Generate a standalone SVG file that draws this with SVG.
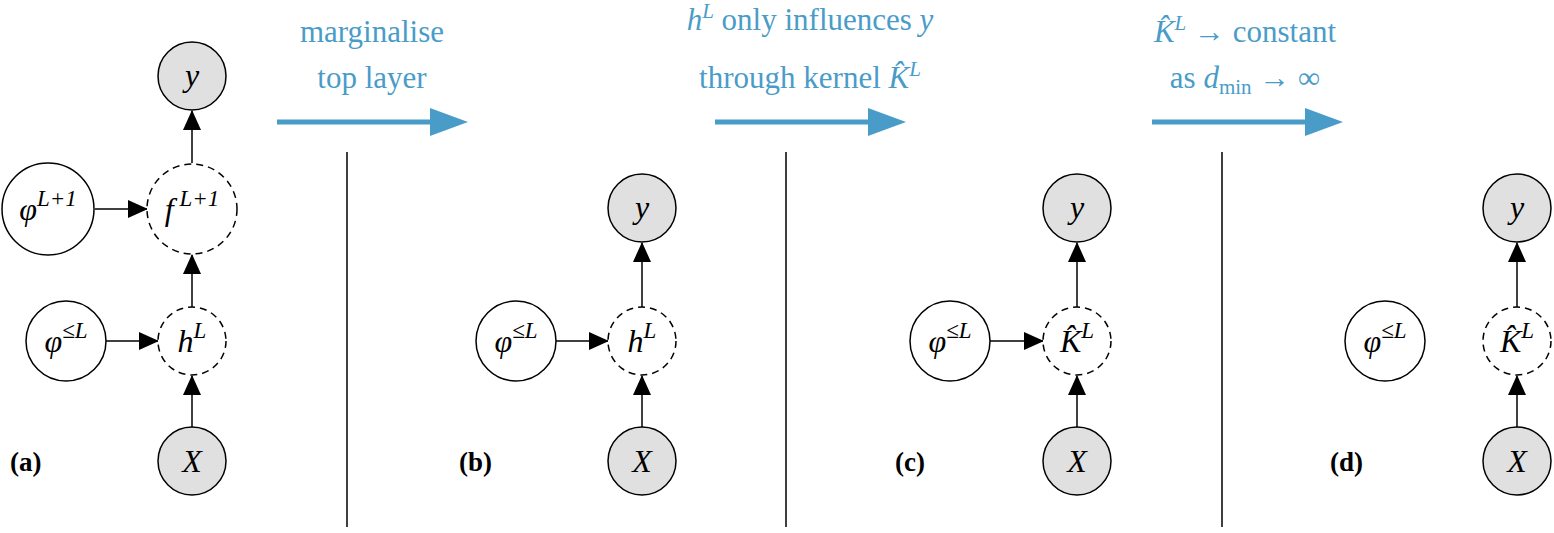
<svg xmlns="http://www.w3.org/2000/svg" width="1554" height="533" viewBox="0 0 1554 533">
<style>
.n{fill:#fff;stroke:#000;stroke-width:1.5}
.g{fill:#e0e0e0;stroke:#000;stroke-width:1.5}
.d{fill:#fff;stroke:#000;stroke-width:1.5;stroke-dasharray:7,5}
.m{font-family:"Liberation Serif","Times New Roman","DejaVu Serif",serif;font-style:italic;font-size:32px;text-anchor:middle}
.b{font-family:"Liberation Serif","Times New Roman","DejaVu Serif",serif;font-size:31px;fill:#4a9cc8;text-anchor:middle}
.lab{font-family:"Liberation Serif","Times New Roman","DejaVu Serif",serif;font-weight:bold;font-size:27px}
.e{stroke:#000;stroke-width:1.5;fill:none;marker-end:url(#ah)}
.ba{stroke:#4a9cc8;stroke-width:5;fill:none}
.div{stroke:#000;stroke-width:1.5}
</style>
<defs>
<marker id="ah" markerWidth="20" markerHeight="18" refX="19" refY="9" orient="auto" markerUnits="userSpaceOnUse"><path d="M0,0L20,9L0,18z" fill="#000"/></marker>
</defs>
<g id="connectors">
<path class="e" d="M192,163V111"/><path class="e" d="M192,307V255"/><path class="e" d="M192,427V376"/>
<path class="e" d="M95,209H147"/><path class="e" d="M106,341H158"/>
<path class="e" d="M642,307V243"/><path class="e" d="M642,427V376"/><path class="e" d="M556,341H608"/>
<path class="e" d="M1077,307V243"/><path class="e" d="M1077,427V376"/><path class="e" d="M990,341H1043"/>
<path class="e" d="M1517,307V243"/><path class="e" d="M1517,427V376"/>
<path class="ba" d="M277,122H432"/><path d="M430,108L468,122L430,136z" fill="#4a9cc8"/>
<path class="ba" d="M715,122H870"/><path d="M868,108L906,122L868,136z" fill="#4a9cc8"/>
<path class="ba" d="M1152,122H1307"/><path d="M1305,108L1343,122L1305,136z" fill="#4a9cc8"/>
<path class="div" d="M347,152V527M786,152V527M1222,152V527"/>
</g>
<g id="text-arrows">
<text class="b" x="372" y="42">marginalise</text><text class="b" x="372" y="88">top layer</text>
<text class="b" x="810" y="30"><tspan font-style="italic">h</tspan><tspan font-style="italic" font-size="21" dy="-12">L</tspan><tspan dy="12"> only influences </tspan><tspan font-style="italic">y</tspan></text>
<text class="b" x="810" y="88">through kernel <tspan font-style="italic">K̂</tspan><tspan font-style="italic" font-size="21" dy="-12">L</tspan></text>
<text class="b" x="1245" y="42"><tspan font-style="italic">K̂</tspan><tspan font-style="italic" font-size="21" dy="-12">L</tspan><tspan dy="12"> → constant</tspan></text>
<text class="b" x="1245" y="88">as <tspan font-style="italic">d</tspan><tspan font-size="21" dy="6">min</tspan><tspan dy="-6"> → ∞</tspan></text>
</g>
<g id="a">
<g id="a-y"><circle class="g" cx="192" cy="76" r="34"/><text class="m" x="192" y="86">y</text></g>
<g id="a-f"><circle class="d" cx="192" cy="209" r="45"/><text class="m" x="192" y="220">f<tspan font-size="23" dy="-14"> L+1</tspan></text></g>
<g id="a-phi1"><circle class="n" cx="48" cy="209" r="46"/><text class="m" x="48" y="220">φ<tspan font-size="23" dy="-14">L+1</tspan></text></g>
<g id="a-phi"><circle class="n" cx="66" cy="341" r="40"/><text class="m" x="66" y="352">φ<tspan font-size="23" dy="-14">≤L</tspan></text></g>
<g id="a-h"><circle class="d" cx="192" cy="341" r="34"/><text class="m" x="192" y="352">h<tspan font-size="23" dy="-14">L</tspan></text></g>
<g id="a-x"><circle class="g" cx="192" cy="461" r="34"/><text class="m" x="192" y="472">X</text></g>
<text class="lab" x="10" y="471">(a)</text>
</g>
<g id="b">
<g id="b-y"><circle class="g" cx="642" cy="208" r="34"/><text class="m" x="642" y="218">y</text></g>
<g id="b-phi"><circle class="n" cx="516" cy="341" r="40"/><text class="m" x="516" y="352">φ<tspan font-size="23" dy="-14">≤L</tspan></text></g>
<g id="b-h"><circle class="d" cx="642" cy="341" r="34"/><text class="m" x="642" y="352">h<tspan font-size="23" dy="-14">L</tspan></text></g>
<g id="b-x"><circle class="g" cx="642" cy="461" r="34"/><text class="m" x="642" y="472">X</text></g>
<text class="lab" x="459" y="471">(b)</text>
</g>
<g id="c">
<g id="c-y"><circle class="g" cx="1077" cy="208" r="34"/><text class="m" x="1077" y="218">y</text></g>
<g id="c-phi"><circle class="n" cx="950" cy="341" r="40"/><text class="m" x="950" y="352">φ<tspan font-size="23" dy="-14">≤L</tspan></text></g>
<g id="c-k"><circle class="d" cx="1077" cy="341" r="34"/><text class="m" x="1077" y="352">K̂<tspan font-size="23" dy="-14">L</tspan></text></g>
<g id="c-x"><circle class="g" cx="1077" cy="461" r="34"/><text class="m" x="1077" y="472">X</text></g>
<text class="lab" x="895" y="471">(c)</text>
</g>
<g id="d">
<g id="d-y"><circle class="g" cx="1517" cy="208" r="34"/><text class="m" x="1517" y="218">y</text></g>
<g id="d-phi"><circle class="n" cx="1385" cy="341" r="40"/><text class="m" x="1385" y="352">φ<tspan font-size="23" dy="-14">≤L</tspan></text></g>
<g id="d-k"><circle class="d" cx="1517" cy="341" r="34"/><text class="m" x="1517" y="352">K̂<tspan font-size="23" dy="-14">L</tspan></text></g>
<g id="d-x"><circle class="g" cx="1517" cy="461" r="34"/><text class="m" x="1517" y="472">X</text></g>
<text class="lab" x="1330" y="471">(d)</text>
</g>
</svg>
